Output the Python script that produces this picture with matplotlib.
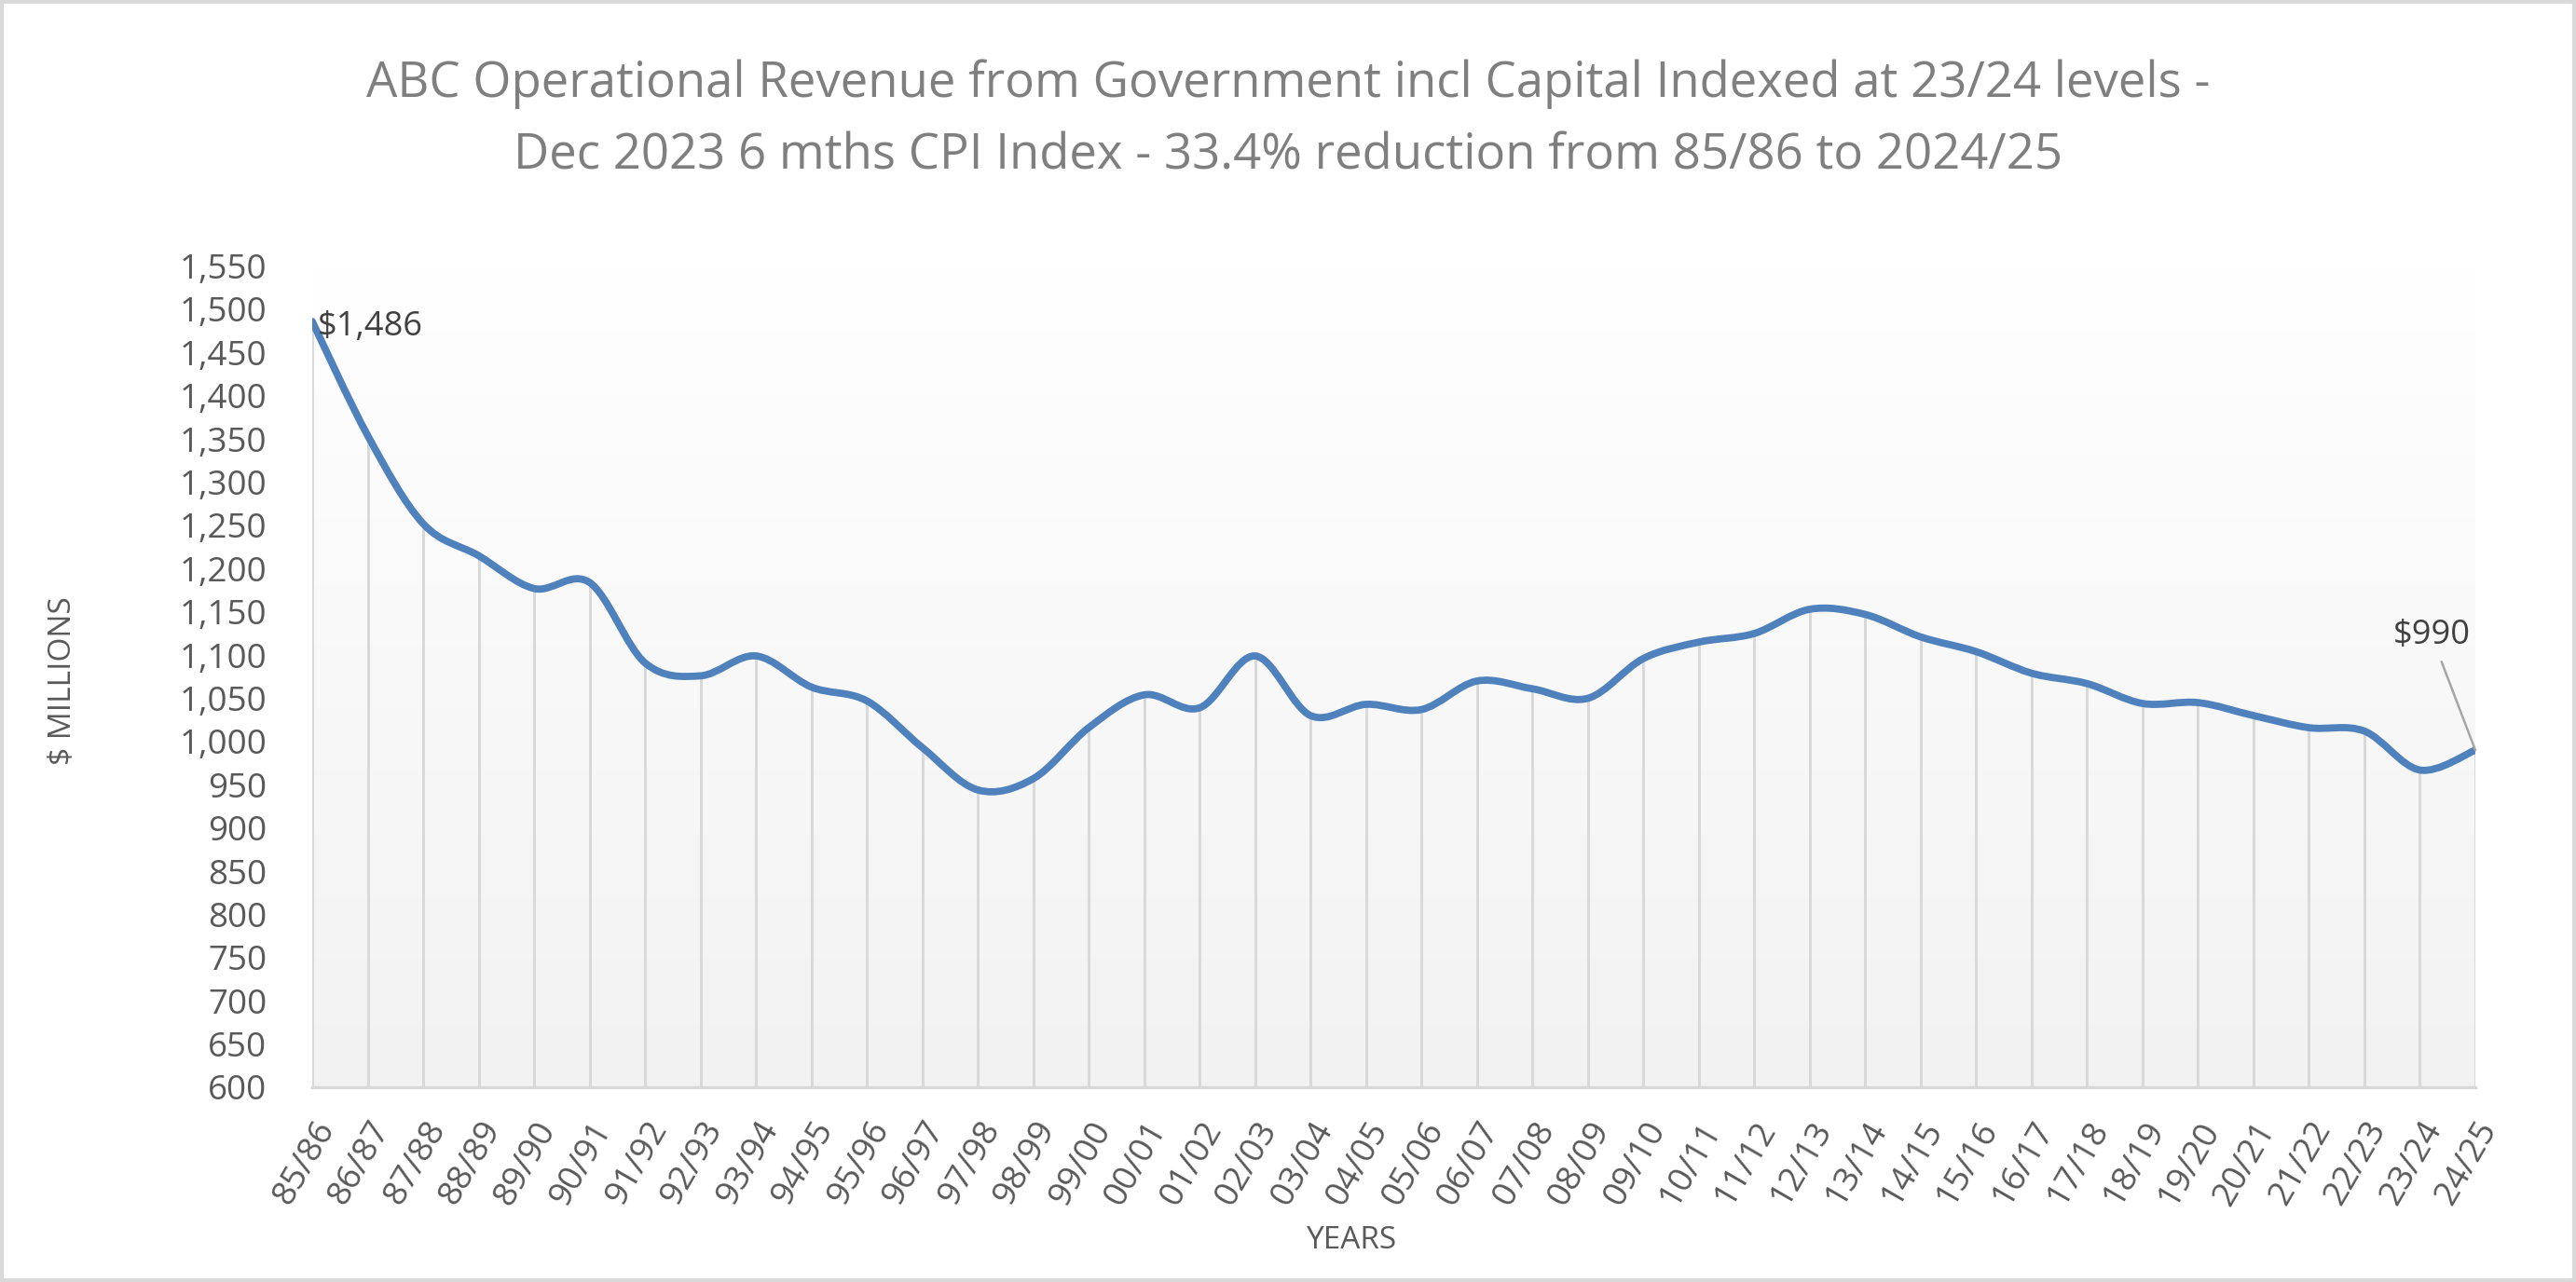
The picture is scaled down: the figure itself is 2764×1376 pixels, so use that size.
import numpy as np
import matplotlib
matplotlib.use('Agg')
import matplotlib.pyplot as plt
from matplotlib.path import Path
from matplotlib.patches import PathPatch, Rectangle
from matplotlib.colors import LinearSegmentedColormap
from matplotlib.ticker import FuncFormatter

# Data
years = ['85/86', '86/87', '87/88', '88/89', '89/90', '90/91', '91/92', '92/93', '93/94', '94/95',
         '95/96', '96/97', '97/98', '98/99', '99/00', '00/01', '01/02', '02/03', '03/04', '04/05',
         '05/06', '06/07', '07/08', '08/09', '09/10', '10/11', '11/12', '12/13', '13/14', '14/15',
         '15/16', '16/17', '17/18', '18/19', '19/20', '20/21', '21/22', '22/23', '23/24', '24/25']
revenue = [1486, 1354, 1252, 1215, 1177, 1184, 1091, 1076, 1099, 1063,
           1047, 993, 944, 957, 1016, 1054, 1039, 1099, 1030, 1043,
           1037, 1070, 1061, 1050, 1096, 1115, 1125, 1153, 1147, 1121,
           1104, 1079, 1067, 1044, 1045, 1030, 1016, 1012, 967, 990]

plt.rcParams['font.family'] = ['Open Sans', 'DejaVu Sans']

fig = plt.figure(figsize=(27.64, 13.76), dpi=100)
ax = fig.add_axes([335 / 2764, 1 - 1167 / 1376, (2656 - 335) / 2764, (1167 - 285.6) / 1376])

x = np.arange(len(years))
y = np.array(revenue, dtype=float)

# background gradient (white at top, light grey at bottom)
cmap = LinearSegmentedColormap.from_list('bg', ['#f2f2f2', '#ffffff'])
ax.imshow(np.linspace(0, 1, 256).reshape(-1, 1), extent=[0, len(years) - 1, 600, 1550],
          origin='lower', aspect='auto', cmap=cmap, zorder=0)

# drop lines
ax.vlines(x, 600, y, color='#d9d9d9', lw=2.2, zorder=1)

# smoothed line (Excel style bezier through the points)
pts = np.column_stack([x, y])
padded = np.vstack([pts[0], pts, pts[-1]])
verts = [pts[0]]
codes = [Path.MOVETO]
for i in range(len(pts) - 1):
    p0, p1, p2, p3 = padded[i], padded[i + 1], padded[i + 2], padded[i + 3]
    verts += [p1 + (p2 - p0) / 6, p2 - (p3 - p1) / 6, p2]
    codes += [Path.CURVE4] * 3
ax.add_patch(PathPatch(Path(verts, codes), facecolor='none', edgecolor='#4f81bd',
                       lw=5.6, capstyle='round', joinstyle='round', zorder=3))

ax.set_xlim(0, len(years) - 1)
ax.set_ylim(600, 1550)
ax.set_yticks(np.arange(600, 1551, 50))
ax.yaxis.set_major_formatter(FuncFormatter(lambda v, p: f'{v:,.0f}'))
ax.set_xticks(x)
ax.set_xticklabels(years, rotation=60, ha='right', rotation_mode='anchor')
ax.tick_params(axis='both', length=0, labelsize=26.5, colors='#595959')
ax.tick_params(axis='y', pad=35)
ax.tick_params(axis='x', pad=22)

for s in ['top', 'right', 'left']:
    ax.spines[s].set_visible(False)
ax.spines['bottom'].set_color('#d9d9d9')
ax.spines['bottom'].set_linewidth(2.5)

# data labels
ax.annotate(f'${revenue[0]:,}', xy=(0, revenue[0]), xytext=(4, -4), textcoords='offset points',
            ha='left', va='center', fontsize=26, color='#404040', zorder=4)
ax.annotate(f'${revenue[-1]:,}', xy=(len(years) - 1, revenue[-1]), xytext=(-34, 76),
            textcoords='offset points', ha='center', va='bottom', fontsize=26, color='#404040',
            arrowprops=dict(arrowstyle='-', color='#a6a6a6', lw=1.8, shrinkA=6, shrinkB=0), zorder=4)

# titles and axis labels
fig.text(0.5, 1 - 104 / 1376, 'ABC Operational Revenue from Government incl Capital Indexed at 23/24 levels -',
         ha='center', va='baseline', fontsize=38, color='#7f7f7f')
fig.text(0.5, 1 - 182 / 1376, 'Dec 2023 6 mths CPI Index - 33.4% reduction from 85/86 to 2024/25',
         ha='center', va='baseline', fontsize=38, color='#7f7f7f')
fig.text(1451 / 2764, 1 - 1331 / 1376, 'YEARS', ha='center', va='center', fontsize=24, color='#595959')
fig.text(67 / 2764, 1 - 731 / 1376, '$ MILLIONS', ha='center', va='center', rotation=90,
         fontsize=24, color='#595959')

# chart border
fig.patches.append(Rectangle((0.0008, 0.0015), 0.9984, 0.997, transform=fig.transFigure,
                             fill=False, edgecolor='#d9d9d9', lw=3))

fig.savefig('out.png', dpi=100)
